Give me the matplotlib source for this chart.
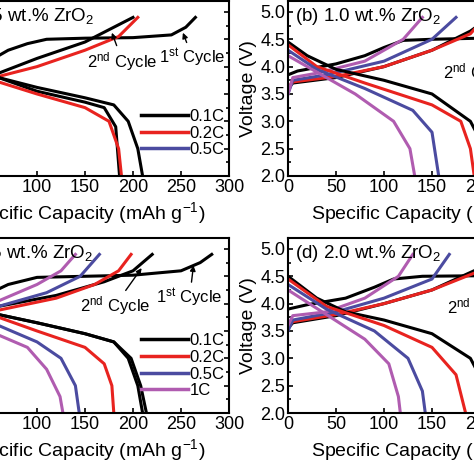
import numpy as np
import matplotlib.pyplot as plt
from matplotlib.ticker import MultipleLocator

BLACK, RED, BLUE, MAG = "black", "#e8231f", "#4b4ba0", "#b05cb0"

# each curve: (capacity list, voltage list, colour)
a_curves = [
    ([0, 20, 50, 70, 90, 110, 150, 200, 240, 255, 265], [3.7, 3.9, 4.1, 4.3, 4.42, 4.5, 4.52, 4.53, 4.58, 4.72, 4.9], BLACK),
    ([0, 20, 60, 100, 150, 200], [3.6, 3.75, 3.88, 4.15, 4.45, 4.9], BLACK),
    ([0, 60, 100, 150, 185, 205], [3.6, 3.82, 4.0, 4.3, 4.55, 4.9], RED),
    ([0, 30, 60, 100, 150, 180, 195, 205, 210], [4.1, 3.95, 3.8, 3.62, 3.43, 3.3, 3.0, 2.5, 2.0], BLACK),
    ([0, 60, 100, 150, 170, 182, 186], [4.1, 3.8, 3.55, 3.35, 3.25, 2.9, 2.0], BLACK),
    ([0, 60, 100, 150, 175, 185, 188], [4.0, 3.72, 3.5, 3.25, 3.0, 2.5, 2.0], RED),
]
b_curves = [
    ([0, 10, 50, 80, 100, 120, 150, 200, 230], [3.85, 3.92, 4.05, 4.2, 4.35, 4.48, 4.5, 4.52, 4.52], BLACK),
    ([0, 5, 50, 100, 150, 190, 210], [3.6, 3.7, 3.8, 4.0, 4.3, 4.65, 4.9], BLACK),
    ([0, 5, 50, 100, 150, 190, 205], [3.62, 3.72, 3.82, 4.0, 4.3, 4.6, 4.9], RED),
    ([0, 5, 40, 100, 150, 175], [3.5, 3.75, 3.85, 4.1, 4.5, 4.9], BLUE),
    ([0, 5, 30, 80, 120, 140], [3.5, 3.8, 3.88, 4.1, 4.5, 4.9], MAG),
    ([0, 20, 50, 100, 150, 190, 205, 212], [4.45, 4.2, 3.95, 3.75, 3.5, 3.0, 2.5, 2.0], BLACK),
    ([0, 30, 80, 150, 180, 190, 194], [4.4, 4.0, 3.7, 3.3, 3.0, 2.5, 2.0], RED),
    ([0, 30, 80, 130, 150, 157], [4.3, 3.95, 3.6, 3.2, 2.8, 2.0], BLUE),
    ([0, 30, 70, 110, 127, 132], [4.2, 3.9, 3.5, 3.0, 2.5, 2.0], MAG),
]
c_curves = [
    ([0, 40, 70, 100, 150, 200, 250, 270, 282], [3.7, 4.1, 4.35, 4.48, 4.5, 4.52, 4.6, 4.75, 4.9], BLACK),
    ([0, 60, 120, 170, 200, 220], [3.7, 3.95, 4.15, 4.4, 4.6, 4.9], BLACK),
    ([0, 60, 120, 160, 185, 198], [3.7, 3.88, 4.1, 4.35, 4.6, 4.9], RED),
    ([0, 60, 110, 145, 165], [3.7, 3.95, 4.2, 4.5, 4.9], BLUE),
    ([0, 60, 100, 125, 140], [3.7, 4.05, 4.35, 4.6, 4.9], MAG),
    ([0, 60, 100, 150, 180, 195, 205, 210], [4.1, 3.8, 3.65, 3.45, 3.3, 3.0, 2.5, 2.0], BLACK),
    ([0, 60, 100, 150, 180, 198, 208, 214], [4.1, 3.8, 3.65, 3.45, 3.3, 3.0, 2.5, 2.0], BLACK),
    ([0, 60, 100, 150, 170, 178, 180], [4.0, 3.75, 3.5, 3.2, 2.9, 2.5, 2.0], RED),
    ([0, 60, 100, 125, 140, 144], [3.9, 3.6, 3.3, 3.0, 2.5, 2.0], BLUE),
    ([0, 50, 90, 110, 124, 127], [3.85, 3.5, 3.2, 2.8, 2.3, 2.0], MAG),
]
d_curves = [
    ([0, 20, 60, 90, 110, 140, 200, 230], [3.9, 3.98, 4.1, 4.3, 4.45, 4.5, 4.51, 4.51], BLACK),
    ([0, 5, 50, 100, 150, 200, 215], [3.55, 3.65, 3.78, 4.0, 4.25, 4.65, 4.9], BLACK),
    ([0, 5, 50, 100, 150, 200, 212], [3.57, 3.67, 3.8, 4.0, 4.25, 4.6, 4.9], RED),
    ([0, 5, 50, 100, 150, 168], [3.5, 3.7, 3.85, 4.1, 4.45, 4.9], BLUE),
    ([0, 5, 40, 80, 115, 130], [3.6, 3.78, 3.85, 4.1, 4.5, 4.9], MAG),
    ([0, 30, 60, 100, 150, 190, 205, 212], [4.5, 4.1, 3.85, 3.7, 3.45, 3.0, 2.5, 2.0], BLACK),
    ([0, 40, 100, 150, 175, 185], [4.45, 3.95, 3.6, 3.2, 2.7, 2.0], RED),
    ([0, 40, 90, 125, 140, 143], [4.35, 3.9, 3.5, 3.0, 2.4, 2.0], BLUE),
    ([0, 40, 80, 105, 115, 117], [4.25, 3.8, 3.35, 2.9, 2.3, 2.0], MAG),
]
titles = ["(a) 0.5 wt.% ZrO$_2$", "(b) 1.0 wt.% ZrO$_2$", "(c) 1.5 wt.% ZrO$_2$", "(d) 2.0 wt.% ZrO$_2$"]
rates3 = ["0.1C", "0.2C", "0.5C"]
rates4 = ["0.1C", "0.2C", "0.5C", "1C"]

plt.rcParams["font.family"] = "Liberation Sans"
plt.rcParams["mathtext.fontset"] = "custom"
plt.rcParams["mathtext.rm"] = "Liberation Sans"
plt.rcParams["mathtext.it"] = "Liberation Sans"
plt.rcParams["mathtext.default"] = "regular"

fig = plt.figure(figsize=(4.74, 4.74), dpi=100)
W = 288 / 474
H = 175 / 474
pos = [(-59 / 474, 298 / 474), (288 / 474, 298 / 474), (-59 / 474, 61 / 474), (288 / 474, 61 / 474)]
axes = [fig.add_axes([x, y, W, H]) for x, y in pos]

for ax, curves, title in zip(axes, [a_curves, b_curves, c_curves, d_curves], titles):
    for cap, v, col in curves:
        ax.plot(cap, v, color=col, lw=2.2, solid_joinstyle="round")
    ax.set_xlim(0, 300)
    ax.set_ylim(2.0, 5.2)
    ax.xaxis.set_major_locator(MultipleLocator(50))
    ax.yaxis.set_major_locator(MultipleLocator(0.5))
    ax.yaxis.set_minor_locator(MultipleLocator(0.25))
    ax.tick_params(direction="in", top=False, right=True, labelsize=13, width=1.2, pad=2)
    ax.tick_params(which="minor", direction="in", right=True, width=1.2)
    for s in ax.spines.values():
        s.set_linewidth(1.5)
    ax.set_xlabel("Specific Capacity (mAh g$^{-1}$)", fontsize=14, labelpad=3)
    ax.set_ylabel("Voltage (V)", fontsize=14, labelpad=2)
    ax.text(0.025, 0.97, title, transform=ax.transAxes, fontsize=13.5, va="top")

for ax, rates, cy in [(axes[0], rates3, 0.245), (axes[2], rates4, 0.27)]:
    hs = [plt.Line2D([], [], color=c, lw=2.5) for c in [BLACK, RED, BLUE, MAG][:len(rates)]]
    ax.legend(hs, rates, loc="center", bbox_to_anchor=(0.84, cy), frameon=False,
              fontsize=12, handlelength=2.8, handletextpad=0.1, labelspacing=0.1)

arrow = dict(arrowstyle="-|>", color="black", lw=1.0, mutation_scale=8, shrinkA=1, shrinkB=0)
axes[0].annotate("2$^{nd}$ Cycle", xy=(178, 4.62), xytext=(189, 4.1), fontsize=12,
                 ha="center", va="center", arrowprops=arrow)
axes[0].annotate("1$^{st}$ Cycle", xy=(252, 4.62), xytext=(262, 4.16), fontsize=12,
                 ha="center", va="center", arrowprops=arrow)
axes[2].annotate("2$^{nd}$ Cycle", xy=(209, 4.65), xytext=(181, 3.96), fontsize=12,
                 ha="center", va="center", arrowprops=arrow)
axes[2].annotate("1$^{st}$ Cycle", xy=(263, 4.7), xytext=(259, 4.11), fontsize=12,
                 ha="center", va="center", arrowprops=arrow)
axes[1].text(161, 3.9, "2$^{nd}$ Cycle", fontsize=12, va="center")
axes[3].text(166, 3.93, "2$^{nd}$ Cycle", fontsize=12, va="center")

fig.savefig("out.png", dpi=100)
